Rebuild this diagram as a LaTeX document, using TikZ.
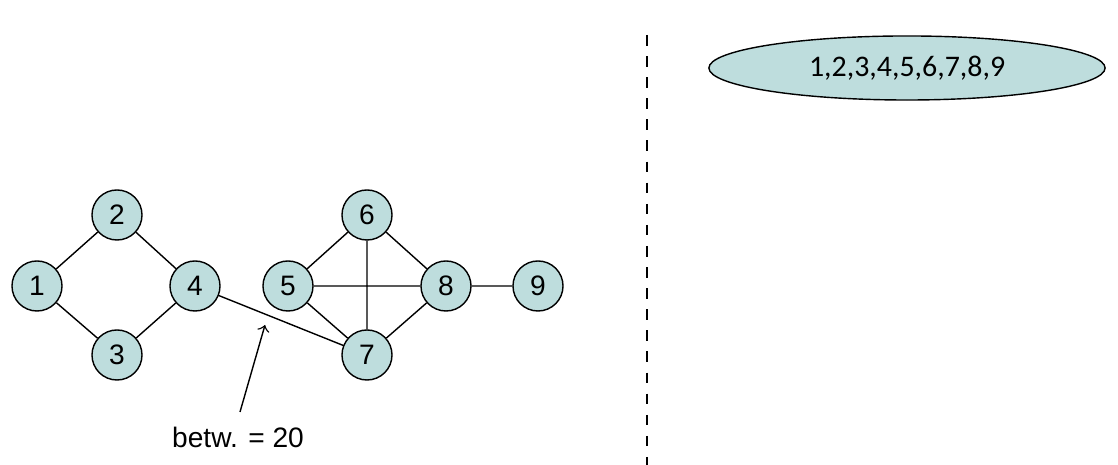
\documentclass[tikz,border=0pt]{standalone}
\usepackage{fontspec}
\setmainfont{Liberation Sans}
\newfontfamily\carl{Carlito}
\usetikzlibrary{shapes.geometric}
\definecolor{nfill}{RGB}{190,221,221}
\begin{document}
\begin{tikzpicture}[x=0.01cm,y=-0.01cm,
  vtx/.style={circle,draw,fill=nfill,minimum size=0.5cm,inner sep=0pt,font=\fontsize{8}{9}\selectfont},
  edge/.style={draw,line width=0.4pt}]
\useasboundingbox (0,0) rectangle (1118,465);
\node[vtx] (n1) at (37,286) {1};
\node[vtx] (n2) at (117,215) {2};
\node[vtx] (n3) at (117,355) {3};
\node[vtx] (n4) at (195,286) {4};
\node[vtx] (n5) at (288,286) {5};
\node[vtx] (n6) at (367,215) {6};
\node[vtx] (n7) at (367,355) {7};
\node[vtx] (n8) at (446,286) {8};
\node[vtx] (n9) at (538,286) {9};
\draw[edge] (n1)--(n2) (n1)--(n3) (n2)--(n4) (n3)--(n4) (n4)--(n7)
  (n5)--(n6) (n5)--(n7) (n5)--(n8) (n6)--(n7) (n6)--(n8) (n7)--(n8) (n8)--(n9);
\node[font=\fontsize{8}{9}\selectfont] (lab) at (238,437) {betw. = 20};
\coordinate (tip) at (265,325);
\draw[->,line width=0.4pt] (240,412) -- (tip);
\draw[dashed,line width=0.5pt] (647,35) -- (647,465);
\node[ellipse,draw,fill=nfill,minimum width=3.96cm,minimum height=0.64cm,inner sep=0pt,font=\carl\fontsize{8.5}{10}\selectfont] (all) at (907,68) {1,2,3,4,5,6,7,8,9};
\end{tikzpicture}
\end{document}
